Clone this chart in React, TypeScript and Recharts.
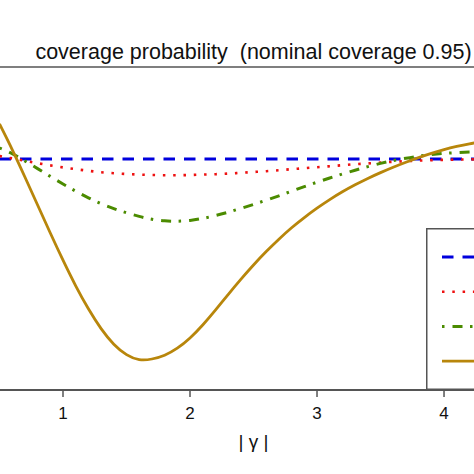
import { LineChart, Line, XAxis, YAxis, ReferenceLine, Legend } from 'recharts';

// |gamma| grid and coverage of the four intervals
const GAMMA = [
  0.5, 0.6, 0.7, 0.8, 0.9, 1.0, 1.1, 1.2, 1.3, 1.4, 1.5, 1.6, 1.7, 1.8, 1.9, 2.0, 2.1, 2.2, 2.3, 2.4,
  2.5, 2.6, 2.7, 2.8, 2.9, 3.0, 3.1, 3.2, 3.3, 3.4, 3.5, 3.6, 3.7, 3.8, 3.9, 4.0, 4.1, 4.2, 4.3,
];
const COVER_DASH = [
  0.95, 0.95, 0.95, 0.95, 0.95, 0.95, 0.95, 0.95, 0.95, 0.95, 0.95, 0.95, 0.95, 0.95, 0.95, 0.95, 0.95, 0.95, 0.95, 0.95,
  0.95, 0.95, 0.95, 0.95, 0.95, 0.95, 0.95, 0.95, 0.95, 0.95, 0.95, 0.95, 0.95, 0.95, 0.95, 0.95, 0.95, 0.95, 0.95,
];
const COVER_DOT = [
  0.9515, 0.9503, 0.9491, 0.9479, 0.9468, 0.9458, 0.9449, 0.9441, 0.9434, 0.9429, 0.9425, 0.9422, 0.942, 0.9419,
  0.9419, 0.942, 0.9422, 0.9424, 0.9427, 0.9431, 0.9435, 0.9439, 0.9444, 0.9449, 0.9454, 0.9459, 0.9464, 0.9469,
  0.9474, 0.9478, 0.9482, 0.9486, 0.9489, 0.9492, 0.9494, 0.9496, 0.9497, 0.9498, 0.9499,
];
const COVER_DOTDASH = [
  0.9555, 0.9527, 0.949, 0.9452, 0.9413, 0.9375, 0.9339, 0.9306, 0.9277, 0.9252, 0.9231, 0.9213, 0.9199, 0.9191,
  0.9189, 0.9193, 0.9203, 0.9217, 0.9234, 0.9253, 0.9273, 0.9294, 0.9316, 0.9339, 0.9362, 0.9384, 0.9405, 0.9425,
  0.9444, 0.9462, 0.9478, 0.9492, 0.9504, 0.9514, 0.9522, 0.9528, 0.9532, 0.9535, 0.9537,
];
const COVER_SOLID = [
  0.9675, 0.9547, 0.941, 0.927, 0.913, 0.8994, 0.8866, 0.8751, 0.8652, 0.8574, 0.8522, 0.8497, 0.85, 0.8519, 0.8554,
  0.8605, 0.867, 0.8744, 0.8822, 0.8898, 0.897, 0.9037, 0.9099, 0.9156, 0.9207, 0.9254, 0.9297, 0.9336, 0.9371,
  0.9403, 0.9432, 0.9459, 0.9484, 0.9507, 0.9528, 0.9547, 0.9563, 0.9576, 0.9586,
];

const X_TICKS = [1, 2, 3, 4];
const X_MIN = 0.504;
const X_MAX = 4.236;
const Y_MIN = 0.8345;
const Y_MAX = 0.996;
const TITLE_AT = 2.5;
const TITLE = 'coverage probability  (nominal coverage 0.95)';
const X_LABEL = '| γ |';

const SERIES = [
  { key: 'dash', values: COVER_DASH, color: '#0000dd', dash: '11.5 9', width: 3.2 },
  { key: 'dot', values: COVER_DOT, color: '#ee1111', dash: '2.5 7.8', width: 2.6 },
  { key: 'dotdash', values: COVER_DOTDASH, color: '#4b8b00', dash: '2.5 8 10 7.5', width: 3 },
  { key: 'solid', values: COVER_SOLID, color: '#b8860b', dash: undefined, width: 2.8 },
];

const data = GAMMA.map((g, i) => {
  const row: Record<string, number> = { gamma: g };
  SERIES.forEach(s => { row[s.key] = s.values[i]; });
  return row;
});

const centerX = (vb: any) => vb.x + ((TITLE_AT - X_MIN) / (X_MAX - X_MIN)) * vb.width;

const TitleText = (props: any) => {
  const vb = props.viewBox ?? { x: 0, y: 67, width: 474 };
  return (
    <text x={centerX(vb)} y={vb.y - 8} textAnchor="middle" fontSize={21.5} fill="#111" style={{ whiteSpace: 'pre' }}>
      {TITLE}
    </text>
  );
};

const GammaText = (props: any) => {
  const vb = props.viewBox ?? { x: 0, y: 390, width: 474 };
  return (
    <text x={centerX(vb)} y={vb.y + 58} textAnchor="middle" fontSize={19} fill="#111" style={{ whiteSpace: 'pre' }}>
      {X_LABEL}
    </text>
  );
};

const LegendBox = () => (
  <svg width={48} height={162} style={{ display: 'block' }}>
    <rect x={0.75} y={0.75} width={80} height={160.5} fill="#fff" stroke="#555" strokeWidth={1.5} />
    {SERIES.map((s, i) => (
      <line
        key={s.key}
        x1={16}
        x2={60}
        y1={29 + i * 34.7}
        y2={29 + i * 34.7}
        stroke={s.color}
        strokeWidth={s.width}
        strokeDasharray={s.dash}
      />
    ))}
  </svg>
);

export default function App() {
  return (
    <div
      style={{
        position: 'absolute', left: 0, top: 0, width: 474, height: 474, overflow: 'hidden',
        background: '#fff', fontFamily: '"Liberation Sans", Arial, sans-serif',
      }}
    >
      <LineChart width={474} height={474} data={data} margin={{ top: 67, right: 0, bottom: 24, left: 0 }}>
        <XAxis
          dataKey="gamma"
          type="number"
          domain={[X_MIN, X_MAX]}
          allowDataOverflow
          ticks={X_TICKS}
          height={60}
          tickSize={7}
          tickMargin={10}
          axisLine={{ stroke: '#555', strokeWidth: 2 }}
          tickLine={{ stroke: '#555', strokeWidth: 1.5 }}
          tick={{ fill: '#111', fontSize: 17 }}
          label={<GammaText />}
        />
        <YAxis hide domain={[Y_MIN, Y_MAX]} allowDataOverflow />
        <ReferenceLine y={Y_MAX} stroke="#555" strokeWidth={1.5} label={<TitleText />} />
        {SERIES.map(s => (
          <Line
            key={s.key}
            type="natural"
            dataKey={s.key}
            stroke={s.color}
            strokeWidth={s.width}
            strokeDasharray={s.dash}
            dot={false}
            activeDot={false}
            isAnimationActive={false}
          />
        ))}
        <Legend
          layout="vertical"
          align="center"
          verticalAlign="middle"
          content={<LegendBox />}
          wrapperStyle={{ position: 'absolute', left: 426, top: 228, width: 48, height: 162 }}
        />
      </LineChart>
    </div>
  );
}
